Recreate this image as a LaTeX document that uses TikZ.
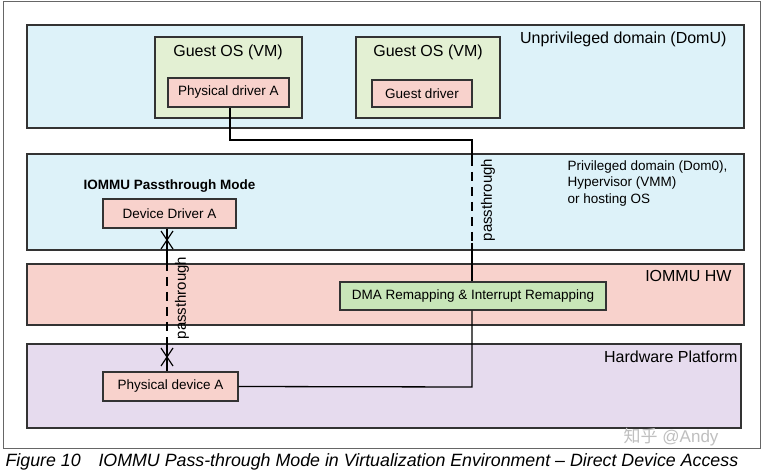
\documentclass[tikz,border=0pt]{standalone}
\usepackage{fontspec}
\setmainfont{Liberation Sans}
\newfontfamily\cjk{Noto Sans CJK SC}
\begin{document}
\begin{tikzpicture}[x=1pt,y=-1pt,
 layer/.style={draw=black!80,line width=1.6pt},
 inner/.style={draw=black!80,line width=1.3pt,inner sep=0pt,font=\fontsize{13.5}{15}\selectfont},
 ln/.style={line width=1.3pt}]
\useasboundingbox[fill=white] (0,0) rectangle (769,473);
\draw[black!60,line width=0.6pt] (3,1) rectangle (760,448);
\definecolor{cy}{HTML}{DDF2F9}\definecolor{gr}{HTML}{E3F0D3}\definecolor{pk}{HTML}{F8D2CC}
\definecolor{lv}{HTML}{E6DBEE}\definecolor{dg}{HTML}{C8E6B8}
\filldraw[layer,fill=cy] (27,25) rectangle (744,128);
\filldraw[layer,fill=cy] (27,154) rectangle (744,250);
\filldraw[layer,fill=pk] (27,264) rectangle (744,325);
\filldraw[layer,fill=lv] (27,344) rectangle (741,428);
\node[anchor=north east,font=\fontsize{16}{18}\selectfont] (lu) at (730,28) {Unprivileged domain (DomU)};
\node[anchor=north west,align=left,font=\fontsize{13.5}{16.5}\selectfont] (l0) at (564,157) {Privileged domain (Dom0),\\Hypervisor (VMM)\\or hosting OS};
\node[anchor=north east,font=\fontsize{16}{18}\selectfont] (li) at (735,267) {IOMMU HW};
\node[anchor=north east,font=\fontsize{16}{18}\selectfont] (lh) at (741,347) {Hardware Platform};
\filldraw[inner,fill=gr] (155,37) rectangle (302,118);
\filldraw[inner,fill=gr] (356,37) rectangle (500,118);
\node[font=\fontsize{16}{18}\selectfont] (g1) at (228,52) {Guest OS (VM)};
\node[font=\fontsize{16}{18}\selectfont] (g2) at (428,52) {Guest OS (VM)};
\node[inner,fill=pk,minimum width=121pt,minimum height=29pt] (pd) at (228.5,92.5) {Physical driver A};
\node[inner,fill=pk,minimum width=100pt,minimum height=27pt] (gd) at (422,93.5) {Guest driver};
\node[anchor=west,font=\bfseries\fontsize{13.5}{15}\selectfont] (pm) at (80,186) {IOMMU Passthrough Mode};
\node[inner,fill=pk,minimum width=133pt,minimum height=29pt] (dd) at (169.5,213.5) {Device Driver A};
\node[inner,fill=dg,minimum width=266pt,minimum height=28pt] (dma) at (473,296) {DMA Remapping \& Interrupt Remapping};
\node[inner,fill=pk,minimum width=135pt,minimum height=29pt] (pa) at (170.5,386.5) {Physical device A};
\coordinate (a1) at (230,140);\coordinate (a2) at (472,140);
\coordinate (a3) at (472,157);\coordinate (a4) at (472,243);
\draw[ln] (pd.south -| a1) -- (a1) -- (a2) -- (a3);
\draw[ln,dash pattern=on 9pt off 6pt] (a3) -- (a4);
\draw[ln] (a4) -- (dma.north -| a4);
\draw[ln] (dma.south -| a4) -- (472,387) -- (pa.east);
\node[rotate=90,font=\fontsize{15}{17}\selectfont] (pt1) at (488,200) {passthrough};
\coordinate (b1) at (167,262);\coordinate (b2) at (167,340);
\draw[ln] (dd.south -| b1) -- (b1);
\draw[ln,dash pattern=on 9pt off 6pt] (b1) -- (b2);
\draw[ln] (b2) -- (pa.north -| b2);
\coordinate (x1) at (167,240);\coordinate (x2) at (167,357);
\foreach \c in {x1,x2}{
 \draw[line width=1.2pt] ([shift={(-6,-9)}]\c) -- ([shift={(6,9)}]\c) ([shift={(6,-9)}]\c) -- ([shift={(-6,9)}]\c);}
\node[rotate=90,font=\fontsize{15}{17}\selectfont] (pt2) at (182,298) {passthrough};
\node[anchor=west,font=\itshape\fontsize{17.8}{19}\selectfont] (cap) at (2,462) {Figure 10\quad IOMMU Pass-through Mode in Virtualization Environment -- Direct Device Access};
\node[anchor=east,text=black!25,font=\fontsize{17}{18}\selectfont] (wm) at (722,437) {{\cjk 知乎} @Andy};
\end{tikzpicture}
\end{document}
